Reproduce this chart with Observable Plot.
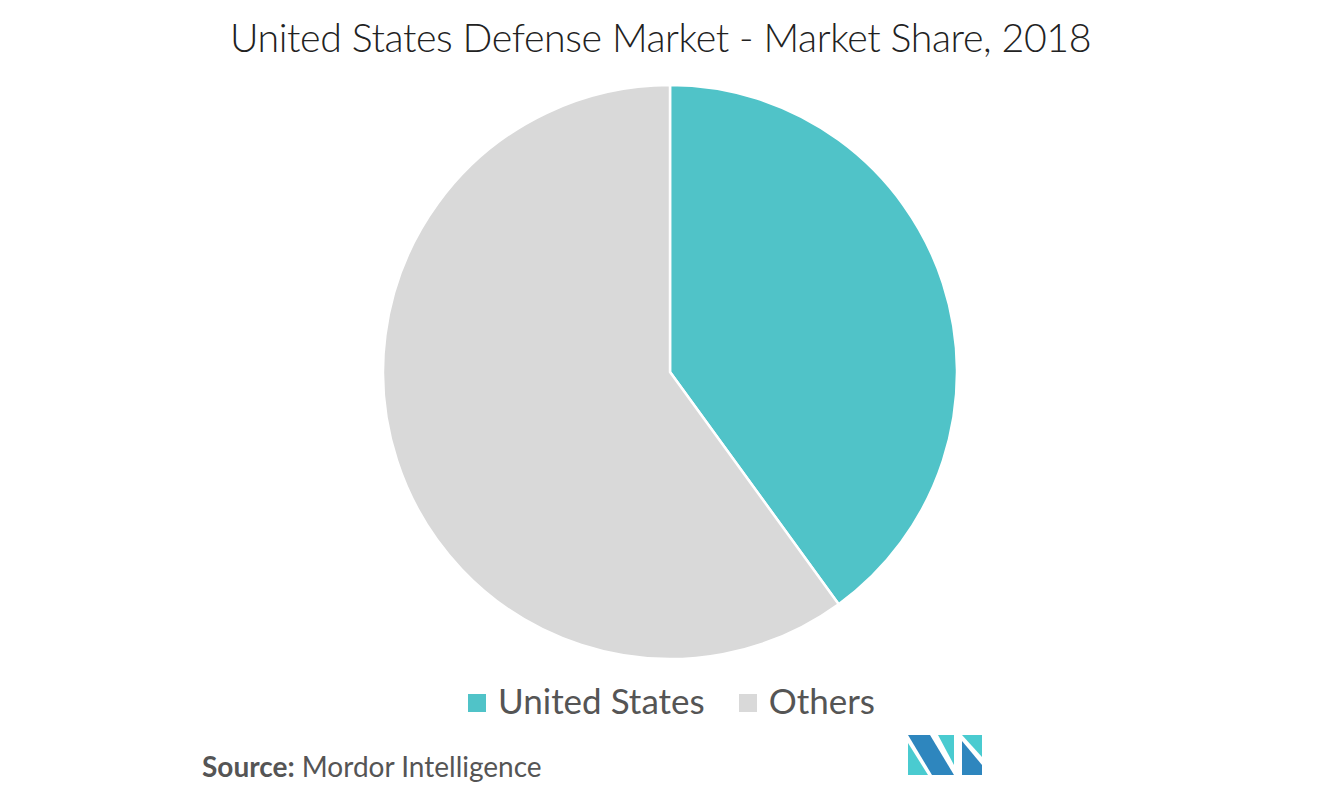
<!DOCTYPE html>
<html>
<head>
<meta charset="utf-8">
<script src="https://cdn.jsdelivr.net/npm/d3@7"></script>
<script src="https://cdn.jsdelivr.net/npm/@observablehq/plot@0.6"></script>
<style>
  html, body { margin: 0; padding: 0; background: #fff; }
  body { width: 1321px; height: 802px; position: relative; overflow: hidden; font-family: Lato, "Open Sans", sans-serif; }
  #title { position: absolute; left: 0; width: 1321px; top: 13px; text-align: center; font-size: 39.3px; font-weight: 300; color: #222; letter-spacing: -0.4px; }
  #chart { position: absolute; left: 0; top: 80px; }
  #legend { position: absolute; left: 11px; width: 1321px; top: 679px; text-align: center; font-size: 35px; color: #555; }
  #legend span.item { display: inline-block; margin: 0 17px; }
  #legend span.sw { display: inline-block; width: 18px; height: 18px; margin-right: 12px; vertical-align: 2px; }
  #source { position: absolute; left: 202px; top: 749px; font-size: 28px; color: #555; }
  #logo { position: absolute; left: 908px; top: 735px; }
</style>
</head>
<body>
<div id="title">United States Defense Market - Market Share, 2018</div>
<div id="chart"></div>
<div id="legend"></div>
<div id="source"><b>Source:</b> Mordor Intelligence</div>
<svg id="logo" width="76" height="42" viewBox="0 0 76 42">
  <polygon points="0,0 22,0 46,40 24,40" fill="#2E86BE"/>
  <polygon points="0,8 0,40 20,40" fill="#4ACBD0"/>
  <polygon points="30,0 46,0 46,30" fill="#4ACBD0"/>
  <polygon points="54,0 74,0 74,22" fill="#4ACBD0"/>
  <polygon points="54,6 74,30 74,40 54,40" fill="#2E86BE"/>
</svg>
<script>
const categories = ["United States", "Others"];
const shares = [40, 60];
const colors = ["#50C3C8", "#D9D9D9"];

const data = categories.map((c, i) => ({category: c, share: shares[i]}));

const W = 1321, H = 600, R = 287, CX = 670, CY = 292;

const pieMark = (index, scales, values, dimensions, context) => {
  const cx = scales.x(0), cy = scales.y(0);
  const r = scales.x(1) - scales.x(0);
  const arcs = d3.pie().sort(null).value(d => d.share)(data);
  const arc = d3.arc().innerRadius(0).outerRadius(r);
  const g = d3.create("svg:g").attr("transform", `translate(${cx},${cy})`);
  g.selectAll("path").data(arcs).join("path")
    .attr("d", arc)
    .attr("fill", d => scales.color(d.data.category))
    .attr("stroke", "#fff")
    .attr("stroke-width", 2.5)
    .attr("stroke-linejoin", "round");
  return g.node();
};

const chart = Plot.plot({
  width: W,
  height: H,
  marginLeft: CX - R,
  marginRight: W - CX - R,
  marginTop: CY - R,
  marginBottom: H - CY - R,
  x: {domain: [-1, 1], axis: null},
  y: {domain: [1, -1], axis: null},
  color: {domain: categories, range: colors},
  marks: [
    Plot.dot([{x: 0, y: 0}], {x: "x", y: "y", r: 0}),
    pieMark
  ]
});
document.getElementById("chart").appendChild(chart);

const legend = document.getElementById("legend");
categories.forEach((c, i) => {
  const item = document.createElement("span");
  item.className = "item";
  const sw = document.createElement("span");
  sw.className = "sw";
  sw.style.background = colors[i];
  item.appendChild(sw);
  item.appendChild(document.createTextNode(c));
  legend.appendChild(item);
});
</script>
</body>
</html>
